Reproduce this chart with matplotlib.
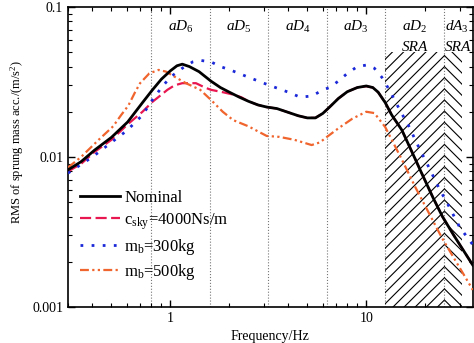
import numpy as np
import matplotlib
matplotlib.use('Agg')
import matplotlib.pyplot as plt
from matplotlib.ticker import FuncFormatter, NullFormatter

plt.rcParams['font.family'] = ['Liberation Serif', 'DejaVu Serif']
plt.rcParams['mathtext.fontset'] = 'custom'
plt.rcParams['mathtext.rm'] = 'Liberation Serif'
plt.rcParams['mathtext.it'] = 'Liberation Serif:italic'
plt.rcParams['hatch.linewidth'] = 0.8

# curve data (Hz, m/s^2)
f_nom = [0.30, 0.35, 0.41, 0.5, 0.605, 0.72, 0.81, 0.9, 1.0, 1.08, 1.15, 1.25, 1.4, 1.61, 1.8, 2.0, 2.25, 2.5, 2.8,
         3.1, 3.5, 4.0, 4.5, 5.0, 5.5, 6.0, 6.5, 7.2, 8.0, 9.0, 10.0, 10.8, 11.5, 12.5, 13.5, 15.2, 17.9, 19.0, 22.0,
         24.5, 28.0, 35.0]
v_nom = [0.0082, 0.0093, 0.0111, 0.0135, 0.0171, 0.023, 0.028, 0.033, 0.0375, 0.0405, 0.0415, 0.040, 0.037, 0.032,
         0.029, 0.027, 0.025, 0.0235, 0.0222, 0.0215, 0.021, 0.0198, 0.0188, 0.0182, 0.0182, 0.0195, 0.0215, 0.0245,
         0.0272, 0.029, 0.0297, 0.029, 0.027, 0.023, 0.019, 0.0151, 0.0095, 0.0080, 0.0053, 0.0040, 0.0030, 0.0019]

f_sky = [0.30, 0.35, 0.41, 0.5, 0.605, 0.72, 0.81, 0.9, 0.965, 1.05, 1.15, 1.35, 1.5, 1.61, 1.85, 2.1, 2.3, 2.5, 2.8,
         3.1, 3.5, 4.0, 4.5, 5.0, 5.5, 6.0, 6.5, 7.2, 8.0, 9.0, 10.0, 10.8, 11.5, 12.5, 13.5, 15.2, 17.9, 19.0, 22.0,
         24.5, 28.0, 35.0]
v_sky = [0.0080, 0.0090, 0.0108, 0.013, 0.0165, 0.020, 0.0233, 0.026, 0.028, 0.030, 0.031, 0.031, 0.029, 0.028,
         0.027, 0.026, 0.025, 0.0235, 0.0222, 0.0215, 0.021, 0.0198, 0.0188, 0.0182, 0.0182, 0.0195, 0.0215, 0.0245,
         0.0272, 0.029, 0.0296, 0.029, 0.027, 0.023, 0.019, 0.0151, 0.0095, 0.0080, 0.0053, 0.0040, 0.0030, 0.0019]

f_300 = [0.30, 0.4, 0.5, 0.6, 0.72, 0.8, 0.9, 1.0, 1.15, 1.3, 1.42, 1.61, 1.8, 2.02, 2.5, 3.2, 4.0, 4.6, 5.3, 6.0,
         6.5, 7.2, 8.0, 9.0, 10.1, 11.0, 12.0, 13.1, 15.0, 16.5, 18.6, 20.9, 23.5, 26.4, 30.0, 35.0]
v_300 = [0.0078, 0.010, 0.0125, 0.015, 0.019, 0.0235, 0.029, 0.034, 0.039, 0.043, 0.044, 0.043, 0.040, 0.038, 0.034,
         0.030, 0.027, 0.025, 0.0255, 0.028, 0.029, 0.032, 0.036, 0.040, 0.041, 0.039, 0.034, 0.028, 0.020, 0.016,
         0.0115, 0.0085, 0.0062, 0.0047, 0.0034, 0.0026]

f_500 = [0.30, 0.35, 0.43, 0.51, 0.56, 0.61, 0.66, 0.70, 0.78, 0.87, 0.95, 1.06, 1.2, 1.42, 1.61, 1.85, 2.09, 2.5,
         2.8, 3.1, 3.6, 4.3, 5.26, 5.8, 6.3, 7.2, 8.5, 10.0, 11.0, 12.5, 15.2, 17.9, 24.3, 35.0]
v_500 = [0.0085, 0.010, 0.013, 0.016, 0.019, 0.022, 0.027, 0.031, 0.036, 0.038, 0.037, 0.034, 0.031, 0.028, 0.024,
         0.020, 0.0176, 0.016, 0.0148, 0.0138, 0.0136, 0.013, 0.012, 0.0125, 0.0136, 0.0155, 0.018, 0.020, 0.0196,
         0.0158, 0.0096, 0.0062, 0.0029, 0.0013]

band_edges = [0.8, 1.6, 3.15, 6.3, 12.5, 25]
band_labels = [r'$aD_6$', r'$aD_5$', r'$aD_4$', r'$aD_3$', r'$aD_2$']

fig = plt.figure(figsize=(4.74, 3.43), dpi=100)
ax = fig.add_axes([0.1435, 0.105, 0.854, 0.875])

# frequency bands
for fb in band_edges:
    ax.axvline(fb, color='#777777', lw=0.8, ls=':', zorder=1)

# SRA regions
ax.fill_between([12.5, 25], 0.001, 0.05, hatch='///', facecolor='none', edgecolor='k', linewidth=0, zorder=1)
ax.fill_between([25, 31], 0.001, 0.05, hatch='\\\\\\', facecolor='none', edgecolor='k', linewidth=0, zorder=1)

ax.plot(f_nom, v_nom, color='k', lw=2.0, label='Nominal', zorder=4)
ax.plot(f_sky, v_sky, color='#e8174f', lw=1.6, ls=(0, (5, 2)), label=r'c$_{\rm sky}$=4000Ns/m', zorder=3)
ax.plot(f_300, v_300, color='#1a28d8', lw=2.0, ls=(0, (1, 3)), label=r'm$_{\rm b}$=300kg', zorder=3)
ax.plot(f_500, v_500, color='#f0642d', lw=1.6, ls=(0, (4, 1.5, 1, 1.5, 1, 1.5)), label=r'm$_{\rm b}$=500kg', zorder=3)

# band labels
for i, lab in enumerate(band_labels):
    xc = np.sqrt(band_edges[i] * band_edges[i + 1])
    ax.text(xc, 0.0736, lab, ha='center', va='center', fontsize=11)
ax.text(np.sqrt(12.5 * 25), 0.0533, 'SRA', ha='center', va='center', fontsize=11, style='italic')
ax.text(25.3, 0.0736, r'$dA_3$', ha='left', va='center', fontsize=11)
ax.text(25.3, 0.0533, 'SRA', ha='left', va='center', fontsize=11, style='italic')

ax.set_xscale('log')
ax.set_yscale('log')
ax.set_xlim(0.3, 35)
ax.set_ylim(0.001, 0.1)

ax.xaxis.set_major_formatter(FuncFormatter(lambda v, p: '%g' % v))
ax.yaxis.set_major_formatter(FuncFormatter(lambda v, p: '%g' % v))
ax.xaxis.set_minor_formatter(NullFormatter())
ax.yaxis.set_minor_formatter(NullFormatter())
ax.tick_params(which='both', direction='in', top=True, right=True, labelsize=10)
ax.tick_params(which='major', length=5, width=1)
ax.tick_params(which='minor', length=3, width=0.8)
for s in ax.spines.values():
    s.set_linewidth(1.2)

ax.set_xlabel('Frequency/Hz', fontsize=10)
ax.set_ylabel(r'RMS of sprung mass acc./(m/s$^2$)', fontsize=9)
ax.yaxis.set_label_coords(-0.105, 0.55)

ax.legend(loc='upper left', bbox_to_anchor=(0.03, 0.39), frameon=False, fontsize=12,
          handlelength=2.4, handletextpad=0.25, borderpad=0, borderaxespad=0, labelspacing=0.3)

fig.savefig('out.png', dpi=100)
